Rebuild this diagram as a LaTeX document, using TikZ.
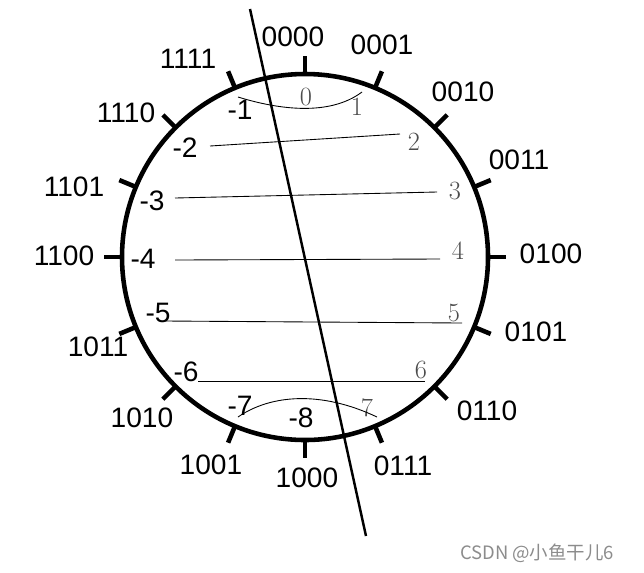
\documentclass[tikz,border=0pt]{standalone}
\usepackage{fontspec}
\setsansfont{Liberation Sans}
\newfontfamily\cjk{Noto Sans CJK SC}
\usetikzlibrary{positioning}

\begin{document}
\begin{tikzpicture}[x=0.02cm, y=-0.02cm,
  code/.style={font=\sffamily\fontsize{16}{16}\selectfont, inner sep=1pt},
  neglabel/.style={font=\sffamily\fontsize{16}{16}\selectfont, inner sep=1pt},
  poslabel/.style={font=\rmfamily\fontsize{15}{15}\selectfont, text=black!70, inner sep=1pt},
  chord/.style={line width=0.5pt},
  thick ring/.style={line width=2.6pt}]
  \useasboundingbox (0,0) rectangle (644,572);

  \coordinate (o) at (305,257);
  \draw[thick ring] (o) circle [radius=183];
  \foreach \k in {0,...,15}
    \draw[thick ring, shift={(o)}] (22.5*\k-90:182) -- (22.5*\k-90:201);

  \node[code] (c0) at (293,37) {0000};
  \node[code] (c1) at (382,45) {0001};
  \node[code] (c2) at (463,92) {0010};
  \node[code] (c3) at (519,160) {0011};
  \node[code] (c4) at (551,254) {0100};
  \node[code] (c5) at (536,332) {0101};
  \node[code] (c6) at (487,411) {0110};
  \node[code] (c7) at (403,466) {0111};
  \node[code] (c8) at (307,478) {1000};
  \node[code] (c9) at (211,465) {1001};
  \node[code] (c10) at (142,418) {1010};
  \node[code] (c11) at (98,347) {1011};
  \node[code] (c12) at (64,256) {1100};
  \node[code] (c13) at (74,187) {1101};
  \node[code] (c14) at (126,113) {1110};
  \node[code] (c15) at (188,59) {1111};

  \node[neglabel] (m1) at (240,110) {-1};
  \node[neglabel] (m2) at (185,148) {-2};
  \node[neglabel] (m3) at (152,201) {-3};
  \node[neglabel] (m4) at (143,259) {-4};
  \node[neglabel] (m5) at (158,313) {-5};
  \node[neglabel] (m6) at (186,372) {-6};
  \node[neglabel] (m7) at (240,406) {-7};
  \node[neglabel] (m8) at (301,418) {-8};

  \node[poslabel] (p0) at (306,97) {0};
  \node[poslabel] (p1) at (357,107) {1};
  \node[poslabel] (p2) at (414,142) {2};
  \node[poslabel] (p3) at (455,191) {3};
  \node[poslabel] (p4) at (458,251) {4};
  \node[poslabel] (p5) at (454,313) {5};
  \node[poslabel] (p6) at (421,370) {6};
  \node[poslabel] (p7) at (367,408) {7};

  \coordinate (l1) at (238,97);   \coordinate (r1) at (362,92);
  \coordinate (l2) at (210,146);  \coordinate (r2) at (400,134);
  \coordinate (l3) at (175,198);  \coordinate (r3) at (437,192);
  \coordinate (l4) at (175,260);  \coordinate (r4) at (440,259);
  \coordinate (l5) at (165,321);  \coordinate (r5) at (462,323);
  \coordinate (l6) at (198,381);  \coordinate (r6) at (425,381);
  \coordinate (l7) at (238,417);  \coordinate (r7) at (377,417);

  \draw[chord] (l1) .. controls (280,110) and (330,116) .. (r1);
  \draw[chord] (l2) -- (r2);
  \draw[chord] (l3) -- (r3);
  \draw[chord] (l4) -- (r4);
  \draw[chord] (l5) -- (r5);
  \draw[chord] (l6) -- (r6);
  \draw[chord] (l7) .. controls (270,395) and (320,390) .. (r7);

  \coordinate (cut top) at (250,9);
  \coordinate (cut bottom) at (366,536);
  \draw[line width=1.4pt] (cut top) -- (cut bottom);

  \node[font=\cjk\fontsize{10.5}{10.5}\selectfont, text=black!45] (mark) at (537,553) {CSDN @小鱼干儿6};
\end{tikzpicture}
\end{document}
